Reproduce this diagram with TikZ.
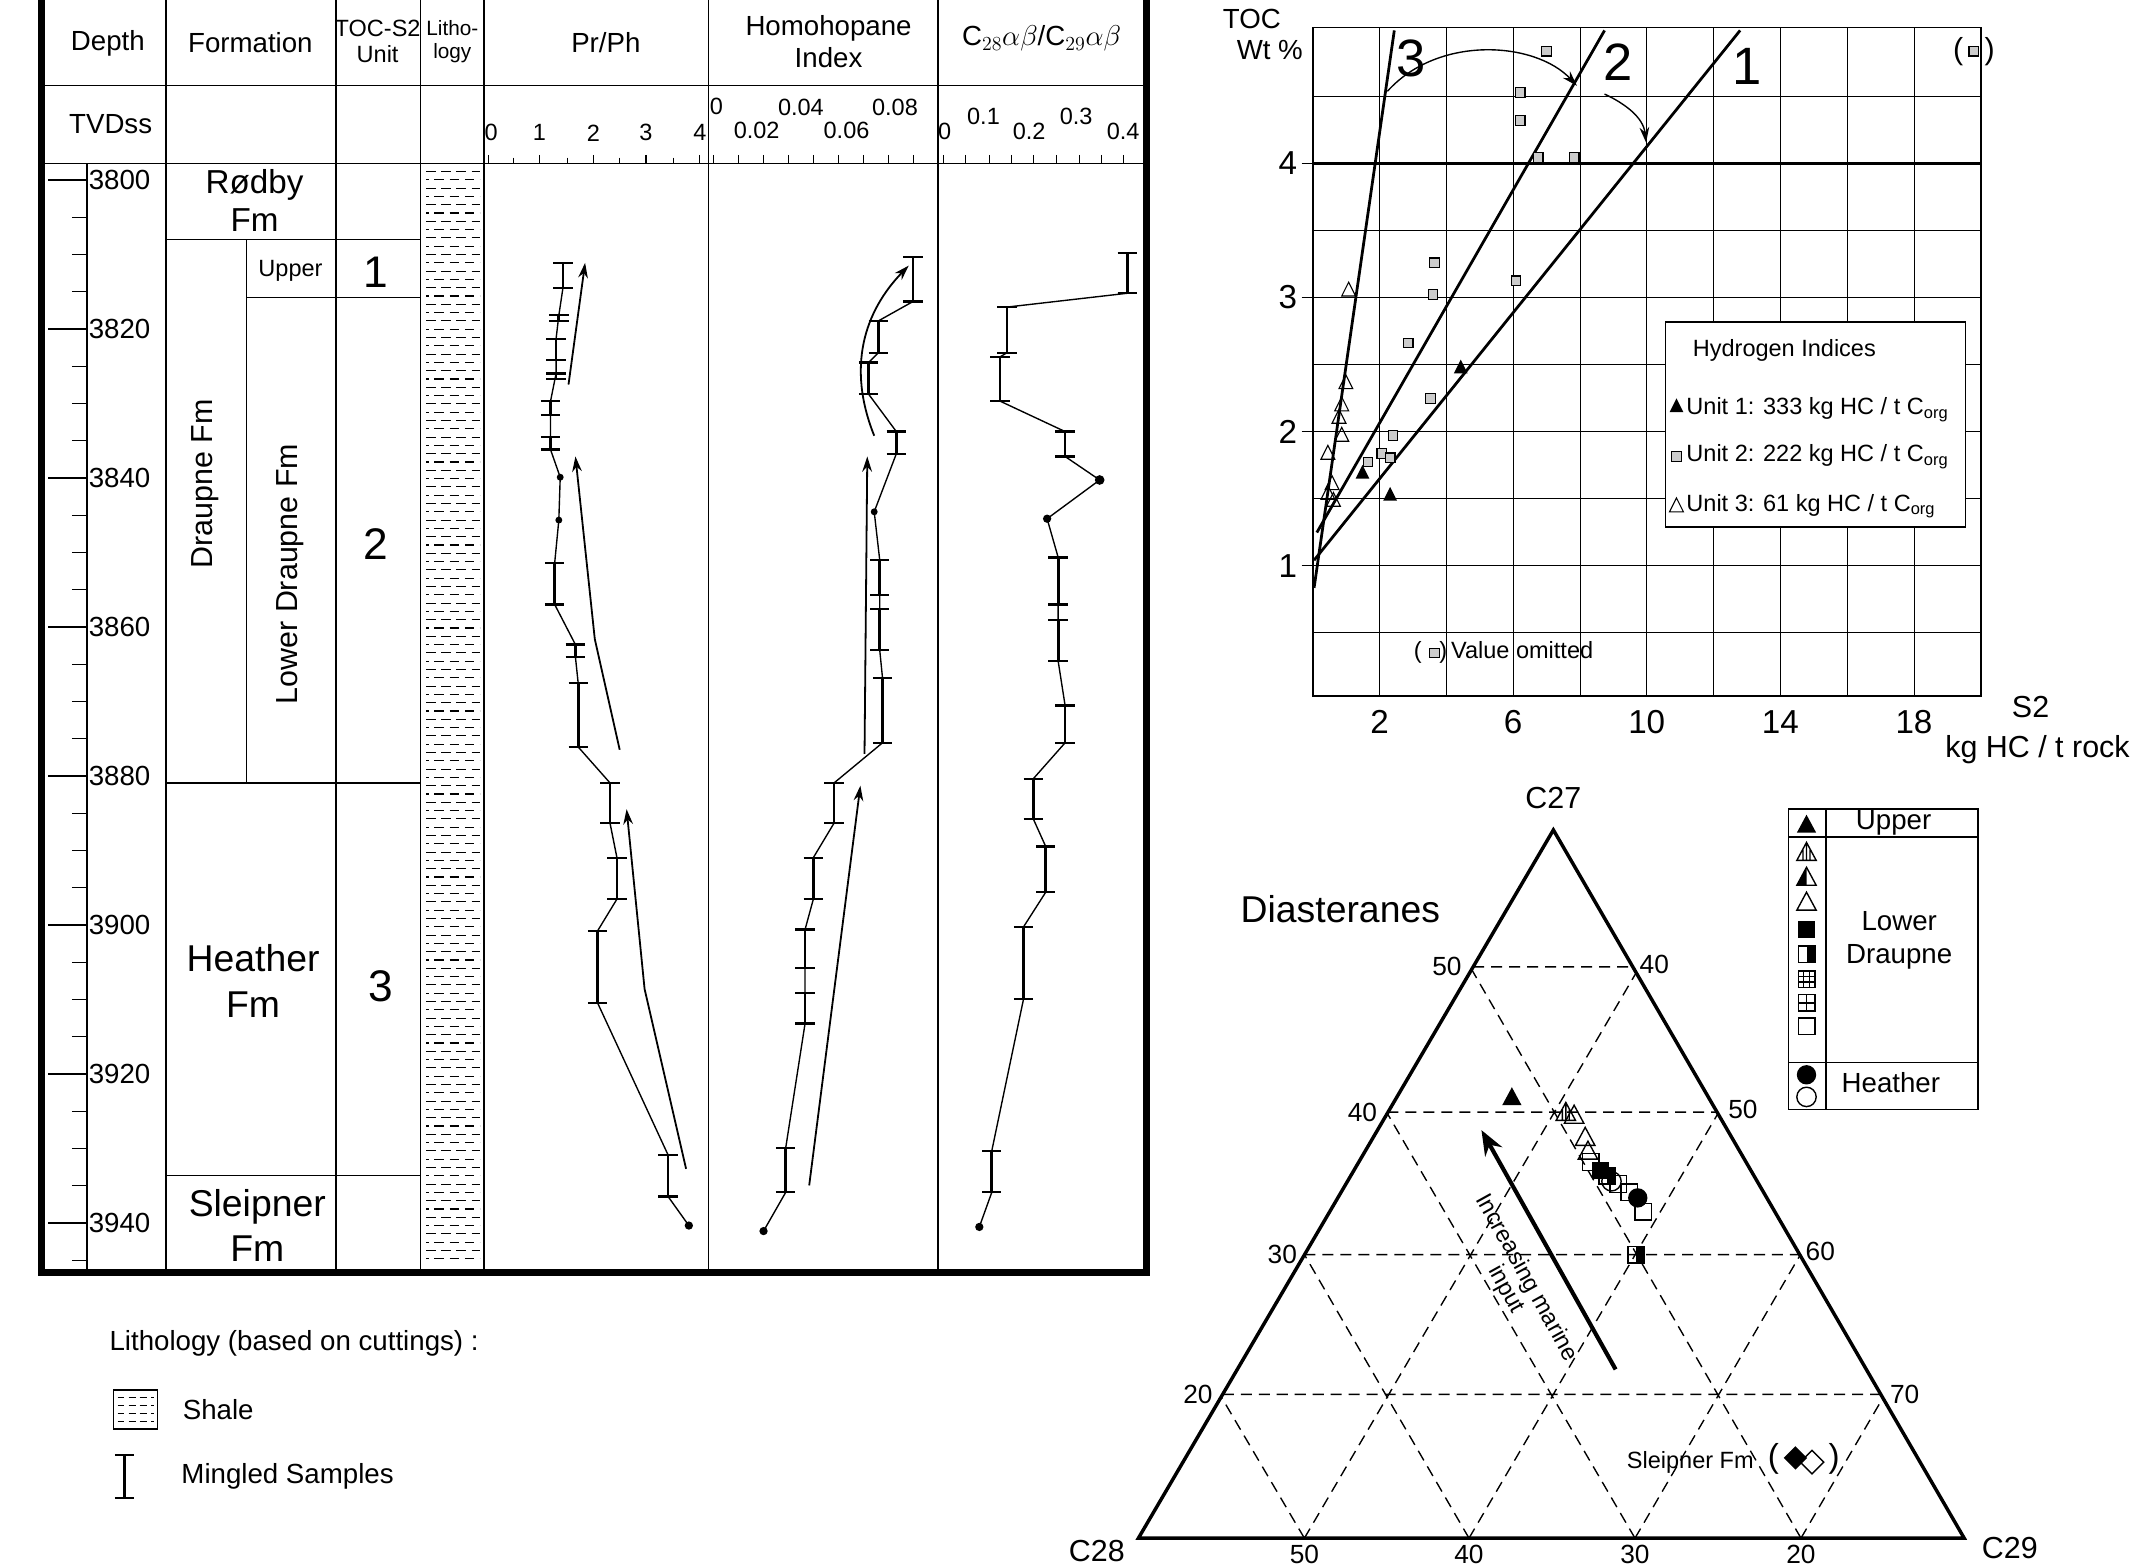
\documentclass[tikz,border=0pt]{standalone}
\usepackage{fontspec}
\setmainfont{Liberation Sans}
\usetikzlibrary{arrows.meta}
\newcommand\fs[1]{\fontsize{#1}{#1}\selectfont}
\newcommand\mbar[3]{\draw[line width=2pt] (#1,#2)--(#1,#3); \draw[line width=1.6pt] (#1-7,#2)--(#1+7,#2) (#1-7,#3)--(#1+7,#3);}
\begin{document}
\begin{tikzpicture}[x=1pt,y=-1pt,line cap=butt,
  lbl/.style={inner sep=0pt,font=\fs{20}},
  sm/.style={inner sep=0pt,font=\fs{17}},
  arr/.style={-{Stealth[length=11pt,width=7pt]},line width=1.3pt},
  pics/ftri/.style={code={\fill (-7,6)--(7,6)--(0,-7)--cycle;}},
  pics/otri/.style={code={\draw[line width=1pt] (-7,6)--(7,6)--(0,-7)--cycle;}},
  pics/htri/.style={code={\draw[line width=1pt] (-7,6)--(7,6)--(0,-7)--cycle; \fill (0,-7)--(0,6)--(-7,6)--cycle;}},
  pics/stri/.style={code={\draw[line width=1pt] (-7,6)--(7,6)--(0,-7)--cycle (-2.5,6)--(-2.5,-2) (2.5,6)--(2.5,-2) (0,6)--(0,-7);}},
  pics/fsq/.style={code={\fill (-6,-6) rectangle (6,6);}},
  pics/osq/.style={code={\draw[line width=1pt] (-6,-6) rectangle (6,6);}},
  pics/hsq/.style={code={\draw[line width=1pt] (-6,-6) rectangle (6,6); \fill (0,-6) rectangle (6,6);}},
  pics/gsq/.style={code={\draw[line width=1pt] (-6,-6) rectangle (6,6) (-2,-6)--(-2,6) (2,-6)--(2,6) (-6,-2)--(6,-2) (-6,2)--(6,2);}},
  pics/qsq/.style={code={\draw[line width=1pt] (-6,-6) rectangle (6,6) (0,-6)--(0,6) (-6,0)--(6,0);}},
  pics/fci/.style={code={\fill (0,0) circle (7);}},
  pics/oci/.style={code={\draw[line width=1pt] (0,0) circle (7);}},
  pics/gsqt/.style={code={\draw[line width=0.8pt,fill=gray!40] (-3.5,-3.5) rectangle (3.5,3.5);}},
  pics/gtri/.style={code={\draw[line width=0.8pt] (-5,4)--(5,4)--(0,-6)--cycle;}},
  pics/gftri/.style={code={\fill (-5,4)--(5,4)--(0,-6)--cycle;}}]
\useasboundingbox (0,0) rectangle (1550,1133);
% ===== LEFT PANEL =====
\draw[line width=1pt] (63,118)--(63,918) (120,0)--(120,918) (243,0)--(243,918) (304,0)--(304,918) (350,0)--(350,918) (512,0)--(512,918) (678,0)--(678,918);
\draw[line width=1pt] (28,62)--(831,62) (28,118)--(831,118);
\draw[line width=1pt] (120,173)--(304,173) (178,173)--(178,566) (178,215)--(304,215) (120,566)--(304,566) (120,850)--(304,850);
\draw[line width=5pt] (30,0)--(30,920)--(829,920)--(829,0);
% depth ticks
\foreach \d [evaluate=\d as \yy using {130+(\d-3800)*5.386}] in {3800,3820,...,3940}{
  \draw[line width=1pt] (35,\yy)--(63,\yy);
  \node[lbl,anchor=west] at (64,\yy) {\d};}
\foreach \d [evaluate=\d as \yy using {130+(\d-3800)*5.386}] in {3805,3810,...,3945}{
  \draw[line width=0.7pt] (52,\yy)--(63,\yy);}
\node[lbl] at (78,31) {Depth};
\node[lbl] at (181,31) {Formation};
\node[align=center,inner sep=0pt,font=\fs{17}] at (273,30) {TOC-S2\\[2pt]Unit};
\node[align=center,inner sep=0pt,font=\fs{15}] at (327,30) {Litho-\\[2pt]logy};
\node[lbl] at (438,31) {Pr/Ph};
\node[lbl,align=center] at (599,30) {Homohopane\\[3pt]Index};
\node[lbl] at (753,28) {C$_{28}\alpha\beta$/C$_{29}\alpha\beta$};
\node[lbl] at (80,90) {TVDss};
\node[lbl,align=center,font=\fs{24}] at (184,145) {Rødby\\[3pt]Fm};
\node[lbl,rotate=90,font=\fs{22}] at (148,350) {Draupne Fm};
\node[lbl,rotate=90,font=\fs{22}] at (210,415) {Lower Draupne Fm};
\node[sm] at (210,196) {Upper};
\node[lbl,font=\fs{32}] at (272,197) {1};
\node[lbl,font=\fs{32}] at (272,393) {2};
\node[lbl,font=\fs{32}] at (275,713) {3};
\node[lbl,align=center,font=\fs{27}] at (183,709) {Heather\\[6pt]Fm};
\node[lbl,align=center,font=\fs{27}] at (186,886) {Sleipner\\[6pt]Fm};
% lithology
\foreach \i in {0,...,65}{
  \pgfmathsetmacro\yy{124+\i*12}
  \draw[line width=0.8pt,dash pattern=on 7pt off 4pt] (308,\yy)--(347,\yy);
  \draw[line width=0.8pt,dash pattern=on 7pt off 4pt,dash phase=5pt] (308,\yy+6)--(347,\yy+6);}
% scales
\draw[line width=0.8pt] (353,112)--(353,118) (390,112)--(390,118) (429,112)--(429,118) (467,112)--(467,118) (506,112)--(506,118);
\foreach \x in {371,410,448,487}{\draw[line width=0.6pt] (\x,114)--(\x,118);}
\node[sm] at (355,96) {0};\node[sm] at (390,96) {1};\node[sm] at (429,96) {2};\node[sm] at (467,96) {3};\node[sm] at (506,96) {4};
\foreach \x in {516,534,552,570,588,606,624,642,660,678}{\draw[line width=0.6pt] (\x,112)--(\x,118);}
\node[sm] at (518,77) {0};\node[sm] at (547,94) {0.02};\node[sm] at (579,78) {0.04};\node[sm] at (612,94) {0.06};\node[sm] at (647,78) {0.08};
\foreach \x in {682,698,715,731,747,764,780,796,812,828}{\draw[line width=0.6pt] (\x,112)--(\x,118);}
\node[sm] at (683,95) {0};\node[sm] at (711,84) {0.1};\node[sm] at (744,95) {0.2};\node[sm] at (778,84) {0.3};\node[sm] at (812,95) {0.4};
% Pr/Ph
\draw[line width=1pt] (407,190)--(407,208)--(404,228)--(402,245)--(402,260)--(402,270)--(398,290)--(398,300)--(398,316)--(398,325)--(405,345)--(404,376)--(401,407)--(401,437)--(416,466)--(416,475)--(418,494)--(418,540)--(441,566)--(441,595)--(446,620)--(446,650)--(432,673)--(432,725)--(483,835)--(483,865)--(498,886);
\mbar{407}{190}{208}\mbar{404}{228}{232}\mbar{402}{245}{260}\mbar{402}{270}{274}\mbar{398}{290}{300}\mbar{398}{316}{325}
\mbar{401}{407}{437}\mbar{416}{466}{475}\mbar{418}{494}{540}\mbar{441}{566}{595}\mbar{446}{620}{650}\mbar{432}{673}{725}\mbar{483}{835}{865}
\fill (405,345) circle (2.5) (404,376) circle (2.5) (498,886) circle (3);
\draw[arr] (411,278)--(423,190);
\draw[arr] (448,542)--(430,462)--(416,330);
\draw[arr] (496,845)--(466,715)--(453,585);
% Homohopane
\draw[line width=1pt] (660,186)--(660,218)--(635,232)--(635,255)--(628,262)--(628,285)--(648,312)--(648,328)--(632,370)--(636,405)--(636,430)--(636,440)--(636,470)--(638,490)--(638,537)--(603,566)--(603,595)--(588,620)--(588,650)--(582,672)--(582,700)--(582,718)--(582,740)--(568,830)--(568,862)--(552,890);
\mbar{660}{186}{218}\mbar{635}{232}{255}\mbar{628}{262}{285}\mbar{648}{312}{328}\mbar{636}{405}{430}\mbar{636}{440}{470}\mbar{638}{490}{537}\mbar{603}{566}{595}\mbar{588}{620}{650}\mbar{582}{672}{700}\mbar{582}{718}{740}\mbar{568}{830}{862}
\fill (632,370) circle (2.5) (552,890) circle (3);
\draw[arr] (632,315) .. controls (612,265) and (625,225) .. (657,192);
\draw[arr] (625,545)--(627,330);
\draw[arr] (585,857)--(622,568);
% C28/C29
\draw[line width=1pt] (815,183)--(815,212)--(728,222)--(728,255)--(723,258)--(723,290)--(770,312)--(770,330)--(795,347)--(757,375)--(765,403)--(765,437)--(765,448)--(765,478)--(770,510)--(770,537)--(747,563)--(747,592)--(756,612)--(756,645)--(740,670)--(740,722)--(717,832)--(717,862)--(708,887);
\mbar{815}{183}{212}\mbar{728}{222}{255}\mbar{723}{258}{290}\mbar{770}{312}{330}\mbar{765}{403}{437}\mbar{765}{448}{478}\mbar{770}{510}{537}\mbar{747}{563}{592}\mbar{756}{612}{645}\mbar{740}{670}{722}\mbar{717}{832}{862}
\fill (795,347) circle (3.5) (757,375) circle (3) (708,887) circle (3);
% legend
\node[lbl,anchor=west] at (79,971) {Lithology (based on cuttings) :};
\draw[line width=1pt] (82,1005) rectangle (114,1033);
\foreach \yy in {1010,1016,1022,1028}{\draw[line width=0.7pt,dash pattern=on 5pt off 3pt] (85,\yy)--(111,\yy);}
\node[lbl,anchor=west] at (132,1019) {Shale};
\mbar{90}{1052}{1083}
\node[lbl,anchor=west] at (131,1067) {Mingled Samples};
% ===== TOC PLOT =====
\foreach \k in {1,...,9}{\draw[line width=0.6pt] (949+48.3*\k,20)--(949+48.3*\k,503);}
\foreach \t in {0.5,1,...,4.5}{\draw[line width=0.6pt] (949,506-97*\t)--(1432,506-97*\t);}
\draw[line width=2pt] (949,118)--(1432,118);
\draw[line width=1.2pt] (949,20) rectangle (1432,503);
\foreach \t in {1,2,3,4}{\draw[line width=1pt] (941,506-97*\t)--(949,506-97*\t); \node[lbl,font=\fs{24}] at (931,506-97*\t) {\t};}
\foreach \s in {2,6,10,14,18}{\node[lbl,font=\fs{24}] at (949+24.15*\s,522) {\s};}
\node[lbl,align=center] at (905,25) {TOC\\[2pt]\hspace*{1.3em}Wt \%};
\node[lbl,font=\fs{22}] at (1468,511) {S2};
\node[lbl,font=\fs{22}] at (1473,542) {kg HC / t rock};
\draw[line width=2pt] (950,425)--(1008,22);
\draw[line width=2pt] (952,385)--(1160,22);
\draw[line width=2pt] (950,405)--(1258,22);
\node[lbl,font=\fs{38}] at (1020,42) {3};
\node[lbl,font=\fs{38}] at (1170,45) {2};
\node[lbl,font=\fs{38}] at (1263,48) {1};
\draw[arr,line width=1pt] (1003,66) .. controls (1040,25) and (1110,30) .. (1140,62);
\draw[arr,line width=1pt] (1160,68) .. controls (1175,75) and (1188,85) .. (1190,103);
\foreach \p in {(1118,37),(1099,67),(1099,87),(1112,114),(1138,114),(1037,190),(1036,213),(1096,203),(1018,248),(1034,288),(1007,315),(999,328),(1005,331),(989,334),(1427,37)}{\pic at \p {gsqt};}
\node[lbl,font=\fs{22}] at (1427,37) {(\hspace{0.7em})};
\foreach \p in {(975,210),(973,277),(970,293),(968,302),(970,315),(960,328),(963,350),(960,357),(964,362)}{\pic at \p {gtri};}
\foreach \p in {(1056,266),(985,342),(1005,358)}{\pic at \p {gftri};}
\draw[line width=1.2pt,fill=white] (1204,233) rectangle (1421,381);
\node[sm] at (1290,253) {Hydrogen Indices};
\pic at (1212,294) {gftri};\node[sm,anchor=west] at (1219,296) {Unit 1: 333 kg HC / t C$_{\mathrm{org}}$};
\pic at (1212,330) {gsqt};\node[sm,anchor=west] at (1219,330) {Unit 2: 222 kg HC / t C$_{\mathrm{org}}$};
\pic at (1212,366) {gtri};\node[sm,anchor=west] at (1219,366) {Unit 3: 61 kg HC / t C$_{\mathrm{org}}$};
\pic at (1037,472) {gsqt};
\node[sm,anchor=west] at (1022,472) {(\hspace{0.75em})\,Value omitted};
% ===== TERNARY =====
\draw[line width=1pt,dash pattern=on 8pt off 5pt] (1065,699)--(1180,699) (1003,804)--(1241,804) (943,907)--(1301,907) (884,1008)--(1360,1008)
 (943,1112)--(1183,703) (1062,1112)--(1242,805) (1182,1112)--(1301,908) (1302,1112)--(1361,1011)
 (1302,1112)--(1064,701) (1182,1112)--(1003,805) (1062,1112)--(943,907) (943,1112)--(883,1010);
\draw[line width=2.5pt,line join=miter] (823,1112)--(1123,600)--(1420,1112)--cycle;
\node[lbl,font=\fs{22}] at (1123,577) {C27};
\node[lbl,font=\fs{22}] at (793,1121) {C28};
\node[lbl,font=\fs{22}] at (1453,1119) {C29};
\node[sm,font=\fs{19}] at (1046,699) {50};\node[sm,font=\fs{19}] at (985,804) {40};\node[sm,font=\fs{19}] at (927,907) {30};\node[sm,font=\fs{19}] at (866,1008) {20};
\node[sm,font=\fs{19}] at (1196,697) {40};\node[sm,font=\fs{19}] at (1260,802) {50};\node[sm,font=\fs{19}] at (1316,905) {60};\node[sm,font=\fs{19}] at (1377,1008) {70};
\node[sm,font=\fs{19}] at (943,1124) {50};\node[sm,font=\fs{19}] at (1062,1124) {40};\node[sm,font=\fs{19}] at (1182,1124) {30};\node[sm,font=\fs{19}] at (1302,1124) {20};
\node[lbl,font=\fs{27}] at (969,657) {Diasteranes};
\pic at (1093,793) {ftri};
\pic at (1132,804) {stri};
\foreach \p in {(1138,806),(1146,822),(1148,832)}{\pic at \p {otri};}
\foreach \p in {(1150,840),(1170,856),(1178,862),(1188,876)}{\pic at \p {osq};}
\pic at (1157,846) {fsq};\pic at (1162,850) {hsq};
\pic at (1165,854) {oci};\pic at (1184,866) {fci};
\pic at (1183,907) {hsq};
\draw[arr,line width=3pt,-{Stealth[length=18pt,width=14pt]}] (1168,990)--(1071,817);
\node[sm,align=center,rotate=-61,font=\fs{17}] at (1096,928) {Increasing marine\\input};
\node[sm,font=\fs{17}] at (1222,1057) {Sleipner Fm};
\node[lbl,font=\fs{24}] at (1304,1055) {(\hspace{1.5em})};
\fill[rotate around={45:(1298,1054)}] (1292,1048) rectangle (1304,1060);
\draw[line width=1pt,rotate around={45:(1310,1057)}] (1304,1051) rectangle (1316,1063);
% legend
\draw[line width=1.2pt] (1293,585) rectangle (1430,802);
\draw[line width=1pt] (1320,585)--(1320,802) (1293,605)--(1430,605) (1293,768)--(1430,768);
\pic at (1306,596) {ftri};\pic at (1306,616) {stri};\pic at (1306,634) {htri};\pic at (1306,652) {otri};
\pic at (1306,672) {fsq};\pic at (1306,690) {hsq};\pic at (1306,708) {gsq};\pic at (1306,725) {qsq};\pic at (1306,742) {osq};
\pic at (1306,777) {fci};\pic at (1306,793) {oci};
\node[lbl] at (1369,595) {Upper};
\node[lbl,align=center] at (1373,680) {Lower\\[4pt]Draupne};
\node[lbl] at (1367,783) {Heather};
\end{tikzpicture}
\end{document}
